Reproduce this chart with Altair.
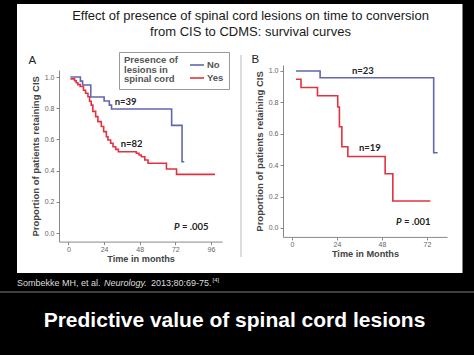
import altair as alt
import pandas as pd

# ---------------- data ----------------
# Panel A: time (months) and proportion retaining CIS
a_no_t = [1.3, 8.0, 9.5, 15.0, 24.0, 27.5, 29.0, 69.5, 76.5, 78.0]
a_no_s = [1.0, 0.974, 0.949, 0.872, 0.846, 0.82, 0.795, 0.69, 0.457, 0.457]
a_yes_t = [1.3, 4.1, 5.2, 6.3, 7.9, 10.1, 11.5, 13.1, 14.2, 15.3, 16.4, 18.3,
           19.8, 22.1, 23.7, 25.5, 26.6, 28.4, 30.0, 31.8, 33.6, 45.7, 47.5,
           49.1, 51.4, 53.6, 66.0, 72.8, 98.7]
a_yes_s = [0.988, 0.976, 0.963, 0.951, 0.939, 0.915, 0.896, 0.874, 0.845, 0.82,
           0.78, 0.746, 0.714, 0.683, 0.65, 0.617, 0.596, 0.575, 0.553, 0.536,
           0.521, 0.511, 0.5, 0.489, 0.468, 0.447, 0.41, 0.376, 0.376]
# Panel B
b_no_t = [2.1, 15.0, 75.6, 77.7]
b_no_s = [1.0, 0.957, 0.479, 0.479]
b_yes_t = [2.1, 4.8, 13.6, 24.4, 25.3, 26.6, 29.8, 49.7, 53.8, 73.8]
b_yes_s = [0.947, 0.895, 0.842, 0.77, 0.645, 0.517, 0.455, 0.345, 0.172, 0.172]

groups = ["No", "Yes"]
x_ticks_a = [0, 24, 48, 72, 96]
x_ticks_b = [0, 24, 48, 72]
y_ticks = [0.0, 0.2, 0.4, 0.6, 0.8, 1.0]

ann_a_text = ["n=39", "n=82"]
ann_a_t = [31.1, 35.2]
ann_a_s = [0.842, 0.57]
ann_b_text = ["n=23", "n=19"]
ann_b_t = [32.0, 35.7]
ann_b_s = [1.0, 0.51]
p_a_num = "= .005"
p_a_t = [71.1, 76.5]
p_b_num = "= .001"
p_b_t = [55.5, 59.7]
p_s = 0.038

# ---------------- tables ----------------
dfA = pd.DataFrame({"t": a_no_t + a_yes_t, "s": a_no_s + a_yes_s,
                    "grp": ["No"] * len(a_no_t) + ["Yes"] * len(a_yes_t)})
dfB = pd.DataFrame({"t": b_no_t + b_yes_t, "s": b_no_s + b_yes_s,
                    "grp": ["No"] * len(b_no_t) + ["Yes"] * len(b_yes_t)})
annA = pd.DataFrame({"t": ann_a_t, "s": ann_a_s, "label": ann_a_text})
annB = pd.DataFrame({"t": ann_b_t, "s": ann_b_s, "label": ann_b_text})
pA_it = pd.DataFrame({"t": [p_a_t[0]], "s": [p_s], "label": ["P"]})
pA_num = pd.DataFrame({"t": [p_a_t[1]], "s": [p_s], "label": [p_a_num]})
pB_it = pd.DataFrame({"t": [p_b_t[0]], "s": [p_s], "label": ["P"]})
pB_num = pd.DataFrame({"t": [p_b_t[1]], "s": [p_s], "label": [p_b_num]})

W, H = 474, 355
FONT = "Liberation Sans"
BLUE = "#6267ad"
RED = "#e2323f"
one = pd.DataFrame({"a": [0]})

color_scale = alt.Scale(domain=groups, range=[BLUE, RED])
legend = alt.Legend(
    title=["Presence of", "lesions in", "spinal cord"], orient="none",
    legendX=119, legendY=52, titleOrient="left", titleFontSize=9.5,
    titleFontWeight="bold", titleColor="#555", titleLineHeight=9.7,
    titleFont=FONT, titlePadding=11, labelFont=FONT, labelFontSize=9.5,
    labelFontWeight="bold", labelColor="#555", symbolType="stroke",
    symbolSize=196, symbolStrokeWidth=1.6, padding=5, strokeColor="#999",
    fillColor="white", rowPadding=0, labelOffset=2)


def panel(df, ann, p_it, p_num, xdom, xrng, ydom, yrng, xticks, xtitle):
    ax = alt.Axis(values=xticks, title=xtitle, orient="bottom",
                  offset=-(H - yrng[0]), tickSize=3, tickColor="#888",
                  domainColor="#888", labelFontSize=7, labelColor="#666",
                  labelFont=FONT, labelPadding=1, labelFlush=False,
                  titleFont=FONT, titleFontSize=9.2, titleFontWeight="bold",
                  titleColor="#444", titlePadding=2, grid=False, zindex=1)
    ay = alt.Axis(values=y_ticks, format=".1f",
                  title="Proportion of patients retaining CIS", orient="left",
                  offset=-xrng[0], tickSize=3, tickColor="#888",
                  domainColor="#888", labelFontSize=7, labelColor="#666",
                  labelFont=FONT, labelPadding=2, labelFlush=False,
                  titleFont=FONT, titleFontSize=9.5, titleFontWeight="bold",
                  titleColor="#444", titlePadding=4, grid=False, zindex=1)
    xs = alt.Scale(domain=xdom, range=xrng, nice=False, zero=False)
    ys = alt.Scale(domain=ydom, range=yrng, nice=False, zero=False)
    X = alt.X("t:Q", scale=xs, axis=ax)
    Y = alt.Y("s:Q", scale=ys, axis=ay)
    lines = alt.Chart(df).mark_line(interpolate="step-after", strokeWidth=1.6).encode(
        x=X, y=Y, color=alt.Color("grp:N", scale=color_scale, legend=legend))
    style = dict(align="left", baseline="middle", font="Lato", fontSize=9.5,
                 fontWeight="bold", color="#222")
    nlab = alt.Chart(ann).mark_text(**style).encode(x=X, y=Y, text="label:N")
    pit = alt.Chart(p_it).mark_text(fontStyle="italic", **style).encode(
        x=X, y=Y, text="label:N")
    pnum = alt.Chart(p_num).mark_text(**style).encode(x=X, y=Y, text="label:N")
    return alt.layer(lines, nlab, pit, pnum)


layerA = panel(dfA, annA, pA_it, pA_num, [-6.4, 103.5], [59, 222.1],
               [-0.055, 1.045], [241.6, 70], x_ticks_a, "Time in months")
layerB = panel(dfB, annB, pB_it, pB_num, [-4.8, 82.7], [283, 447],
               [-0.057, 1.038], [236.9, 65], x_ticks_b, "Time in Months")


def txt(s, x, y, size, color, weight="normal", style="normal", align="left",
        baseline="alphabetic", font=FONT):
    return alt.Chart(one).mark_text(text=s, fontSize=size, color=color,
                                    fontWeight=weight, fontStyle=style,
                                    align=align, baseline=baseline, font=font).encode(
        x=alt.value(x), y=alt.value(y))


white_box = alt.Chart(one).mark_rect(color="white").encode(
    x=alt.value(17), x2=alt.value(462.5), y=alt.value(4), y2=alt.value(273))
sep = alt.Chart(one).mark_rule(color="#bbbbbb", strokeWidth=1).encode(
    x=alt.value(241), y=alt.value(55), y2=alt.value(257))
band_line = alt.Chart(one).mark_rule(color="#555555", strokeWidth=1.5).encode(
    x=alt.value(0), x2=alt.value(474), y=alt.value(292))

decor = [
    white_box, sep, band_line,
    txt("Effect of presence of spinal cord lesions on time to conversion", 250.5, 19.5, 13, "#1a1a1a", align="center"),
    txt("from CIS to CDMS: survival curves", 250.5, 35.5, 13, "#1a1a1a", align="center"),
    txt("A", 28.5, 64.3, 11.5, "#222"),
    txt("B", 251.5, 63.3, 11.5, "#222"),
    txt("Sombekke MH, et al.", 17, 286, 9, "#dddddd"),
    txt("Neurology.", 104, 286, 9, "#dddddd", style="italic"),
    txt("2013;80:69-75.", 151, 286, 9, "#dddddd"),
    txt("[4]", 212.5, 281.5, 6, "#dddddd"),
    txt("Predictive value of spinal cord lesions", 234.5, 327, 21, "white", weight="bold", align="center"),
]

chart = alt.layer(*decor, layerA, layerB).resolve_scale(
    x="independent", y="independent"
).properties(
    width=W, height=H, autosize=alt.AutoSizeParams(type="none"), padding=0,
    background="black"
).configure_view(stroke=None)

chart.save("out.html", embed_options={"renderer": "svg", "actions": False})
